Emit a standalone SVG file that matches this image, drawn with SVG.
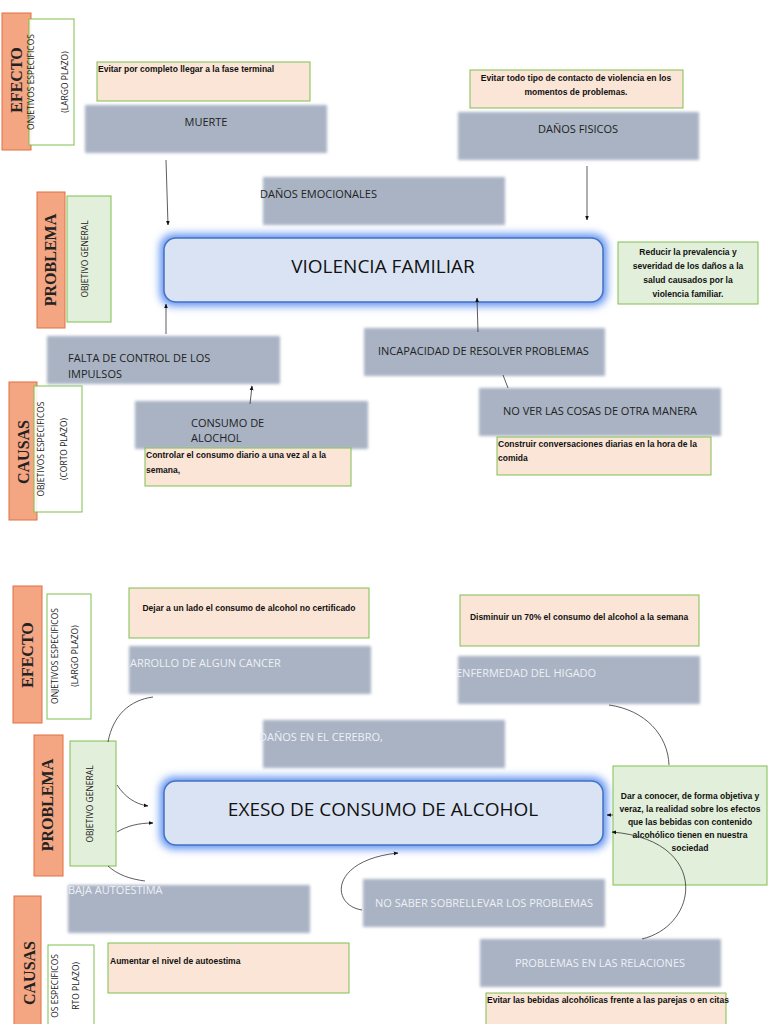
<svg xmlns="http://www.w3.org/2000/svg" width="768" height="1024" viewBox="0 0 768 1024">
<defs>
<filter id="soft" x="-5%" y="-10%" width="110%" height="120%"><feGaussianBlur stdDeviation="1.5"/></filter>
<filter id="glow" x="-10%" y="-30%" width="120%" height="160%"><feGaussianBlur stdDeviation="4"/></filter>
<marker id="ah" viewBox="0 0 10 10" refX="9" refY="5" markerWidth="6" markerHeight="6" orient="auto"><path d="M0,1 L10,5 L0,9 z" fill="#111"/></marker>
</defs>
<style>
.gray{fill:#a9b3c4;filter:url(#soft)}
.peach{fill:#fbe5d6;stroke:#7fbf4f;stroke-width:1}
.green{fill:#e2efda;stroke:#7fbf4f;stroke-width:1}
.white{fill:#fff;stroke:#7fbf4f;stroke-width:1}
.orange{fill:#f4a582;stroke:#e07040;stroke-width:1}
.main{fill:#dae3f3;stroke:#4472c4;stroke-width:1.5}
.gl{fill:#5b8ff0;filter:url(#glow)}
.t{font-family:"Open Sans","Liberation Sans",sans-serif;font-size:11px;fill:#222}
.tw{font-family:"Open Sans","Liberation Sans",sans-serif;font-size:11px;fill:#eef0f5}
.s{font-family:"Liberation Sans Narrow","Liberation Sans",sans-serif;font-size:8.5px;fill:#111;font-weight:bold}
.big{font-family:"Open Sans","Liberation Sans",sans-serif;font-size:19px;fill:#111}
.lab{font-family:"Liberation Serif",serif;font-weight:bold;font-size:16px;fill:#222}
.v{font-family:"Open Sans","Liberation Sans",sans-serif;font-size:8.5px;fill:#222}
.c{fill:none;stroke:#333;stroke-width:0.8}
</style>

<!-- TOP DIAGRAM -->
<g id="efecto1"><rect class="orange" x="2" y="13" width="29" height="137"/><rect class="white" x="29" y="19" width="45" height="126" fill-opacity="0.9"/>
<text class="lab" transform="translate(22,80) rotate(-90)" text-anchor="middle">EFECTO</text>
<text class="v" transform="translate(34,82) rotate(-90)" text-anchor="middle">ONJETIVOS ESPECIFICOS</text>
<text class="v" transform="translate(68,82) rotate(-90)" text-anchor="middle" font-size="10">(LARGO PLAZO)</text></g>
<g id="obj-muerte"><rect class="peach" x="97" y="62" width="213" height="39"/><text class="s" x="98" y="72">Evitar por completo llegar a la fase terminal</text></g>
<g id="muerte"><rect class="gray" x="85" y="105" width="242" height="48"/><text class="t" x="206" y="126" text-anchor="middle">MUERTE</text></g>
<g id="emocionales"><rect class="gray" x="263" y="177" width="242" height="48"/><text class="t" x="260" y="198">DAÑOS EMOCIONALES</text></g>
<g id="obj-fisicos"><rect class="peach" x="470" y="70" width="213" height="38"/><text class="s" x="576" y="81" text-anchor="middle">Evitar todo tipo de contacto de violencia en los</text><text class="s" x="576" y="95" text-anchor="middle">momentos de problemas.</text></g>
<g id="fisicos"><rect class="gray" x="458" y="112" width="241" height="48"/><text class="t" x="578" y="133" text-anchor="middle">DAÑOS FISICOS</text></g>
<g id="violencia"><rect class="gl" x="160" y="234" width="447" height="72" rx="14"/><rect class="main" x="164" y="238" width="439" height="64" rx="12"/><text class="big" x="383" y="273" text-anchor="middle">VIOLENCIA FAMILIAR</text></g>
<g id="obj-general1"><rect class="green" x="618" y="242" width="140" height="62"/>
<text class="s" x="688" y="255" text-anchor="middle">Reducir la prevalencia y</text><text class="s" x="688" y="269" text-anchor="middle">severidad de los daños a la</text><text class="s" x="688" y="283" text-anchor="middle">salud causados por la</text><text class="s" x="688" y="297" text-anchor="middle">violencia familiar.</text></g>
<g id="problema1"><rect class="orange" x="37" y="192" width="28" height="136"/><rect class="green" x="67" y="196" width="44" height="126"/>
<text class="lab" transform="translate(56,260) rotate(-90)" text-anchor="middle">PROBLEMA</text>
<text class="v" transform="translate(88,259) rotate(-90)" text-anchor="middle">OBJETIVO GENERAL</text></g>
<g id="falta"><rect class="gray" x="47" y="336" width="233" height="48"/><text class="t" x="68" y="362">FALTA DE CONTROL DE LOS</text><text class="t" x="68" y="378">IMPULSOS</text></g>
<g id="incapacidad"><rect class="gray" x="364" y="328" width="241" height="48"/><text class="t" x="378" y="355">INCAPACIDAD DE RESOLVER PROBLEMAS</text></g>
<g id="consumo"><rect class="gray" x="135" y="401" width="233" height="48"/><text class="t" x="191" y="427">CONSUMO DE</text><text class="t" x="191" y="442">ALOCHOL</text></g>
<g id="obj-consumo"><rect class="peach" x="145" y="448" width="206" height="38"/><text class="s" x="146" y="458">Controlar el consumo diario a una vez al a la</text><text class="s" x="146" y="473">semana,</text></g>
<g id="nover"><rect class="gray" x="479" y="388" width="242" height="48"/><text class="t" x="600" y="415" text-anchor="middle">NO VER LAS COSAS DE OTRA MANERA</text></g>
<g id="obj-nover"><rect class="peach" x="497" y="437" width="214" height="38"/><text class="s" x="498" y="447">Construir conversaciones diarias en la hora de la</text><text class="s" x="498" y="461">comida</text></g>
<g id="causas1"><rect class="orange" x="9" y="382" width="28" height="138"/><rect class="white" x="34" y="386" width="48" height="126" fill-opacity="0.9"/>
<text class="lab" transform="translate(29,452) rotate(-90)" text-anchor="middle" font-weight="normal" font-size="18">CAUSAS</text>
<text class="v" transform="translate(44,449) rotate(-90)" text-anchor="middle">OBJETIVOS ESPECIFICOS</text>
<text class="v" transform="translate(67,449) rotate(-90)" text-anchor="middle">(CORTO PLAZO)</text></g>

<!-- BOTTOM DIAGRAM -->
<g id="efecto2"><rect class="orange" x="13" y="586" width="29" height="137"/><rect class="white" x="47" y="594" width="44" height="125"/>
<text class="lab" transform="translate(33,655) rotate(-90)" text-anchor="middle">EFECTO</text>
<text class="v" transform="translate(58,656) rotate(-90)" text-anchor="middle">ONJETIVOS ESPECIFICOS</text>
<text class="v" transform="translate(78,656) rotate(-90)" text-anchor="middle" font-size="10">(LARGO PLAZO)</text></g>
<g id="obj-cancer"><rect class="peach" x="129" y="588" width="240" height="50"/><text class="s" x="249" y="611" text-anchor="middle">Dejar a un lado el consumo de alcohol no certificado</text></g>
<g id="cancer"><rect class="gray" x="129" y="646" width="242" height="48"/><text class="tw" x="130" y="667">ARROLLO DE ALGUN CANCER</text></g>
<g id="obj-higado"><rect class="peach" x="460" y="595" width="239" height="51"/><text class="s" x="579" y="620" text-anchor="middle">Disminuir un 70% el consumo del alcohol a la semana</text></g>
<g id="higado"><rect class="gray" x="458" y="656" width="242" height="48"/><text class="tw" x="456" y="677">ENFERMEDAD DEL HIGADO</text></g>
<g id="cerebro"><rect class="gray" x="263" y="720" width="242" height="48"/><text class="tw" x="259" y="741">DAÑOS EN EL CEREBRO,</text></g>
<g id="exeso"><rect class="gl" x="160" y="777" width="447" height="72" rx="14"/><rect class="main" x="164" y="781" width="439" height="64" rx="12"/><text class="big" x="383" y="816" text-anchor="middle">EXESO DE CONSUMO DE ALCOHOL</text></g>
<g id="problema2"><rect class="orange" x="34" y="735" width="29" height="141"/><rect class="green" x="70" y="741" width="46" height="125"/>
<text class="lab" transform="translate(53,805) rotate(-90)" text-anchor="middle">PROBLEMA</text>
<text class="v" transform="translate(93,804) rotate(-90)" text-anchor="middle">OBJETIVO GENERAL</text></g>
<g id="obj-general2"><rect class="green" x="613" y="766" width="154" height="119"/>
<text class="s" x="690" y="799" text-anchor="middle">Dar a conocer, de forma objetiva y</text><text class="s" x="690" y="812" text-anchor="middle">veraz, la realidad sobre los efectos</text><text class="s" x="690" y="825" text-anchor="middle">que las bebidas con contenido</text><text class="s" x="690" y="838" text-anchor="middle">alcohólico tienen en nuestra</text><text class="s" x="690" y="851" text-anchor="middle">sociedad</text></g>
<g id="baja"><rect class="gray" x="68" y="885" width="242" height="48"/><text class="tw" x="68" y="894">BAJA AUTOESTIMA</text></g>
<g id="nosaber"><rect class="gray" x="363" y="879" width="242" height="48"/><text class="tw" x="484" y="907" text-anchor="middle">NO SABER SOBRELLEVAR LOS PROBLEMAS</text></g>
<g id="relaciones"><rect class="gray" x="480" y="939" width="241" height="48"/><text class="tw" x="600" y="967" text-anchor="middle" font-size="9.5">PROBLEMAS EN LAS RELACIONES</text></g>
<g id="obj-relaciones"><rect class="peach" x="486" y="993" width="240" height="40"/><text class="s" x="487" y="1003">Evitar las bebidas alcohólicas frente a las parejas o en citas</text></g>
<g id="obj-baja"><rect class="peach" x="108" y="943" width="241" height="50"/><text class="s" x="110" y="964">Aumentar el nivel de autoestima</text></g>
<g id="causas2"><rect class="orange" x="14" y="896" width="27" height="140"/><rect class="white" x="48" y="945" width="46" height="90"/>
<text class="lab" transform="translate(35,973) rotate(-90)" text-anchor="middle" font-weight="normal" font-size="18">CAUSAS</text>
<text class="v" transform="translate(58,954) rotate(-90)" text-anchor="end">OS ESPECIFICOS</text>
<text class="v" transform="translate(79,962) rotate(-90)" text-anchor="end">RTO PLAZO)</text></g>

<g id="connectors">
<line class="c" x1="166" y1="160" x2="168" y2="225" marker-end="url(#ah)"/>
<line class="c" x1="587" y1="166" x2="587" y2="220" marker-end="url(#ah)"/>
<line class="c" x1="166" y1="334" x2="166" y2="304" marker-end="url(#ah)"/>
<line class="c" x1="478" y1="332" x2="477" y2="298" marker-end="url(#ah)"/>
<line class="c" x1="250" y1="404" x2="252" y2="386" marker-end="url(#ah)"/>
<line class="c" x1="508" y1="388" x2="503" y2="375" stroke="#999"/>
<path class="c" d="M108,742 C113,715 130,700 153,697"/>
<path class="c" d="M117,785 C125,797 135,804 148,806" marker-end="url(#ah)"/>
<path class="c" d="M117,832 C127,826 138,823 153,823" marker-end="url(#ah)"/>
<path class="c" d="M108,866 C118,875 130,879 145,881"/>
<path class="c" d="M362,910 C330,905 330,860 398,853" marker-end="url(#ah)"/>
<path class="c" d="M609,705 C645,710 668,735 669,765"/>
<line class="c" x1="613" y1="815" x2="607" y2="815" marker-end="url(#ah)"/>
<path class="c" d="M642,939 C700,925 710,840 612,832" marker-end="url(#ah)"/>
</g>
</svg>
